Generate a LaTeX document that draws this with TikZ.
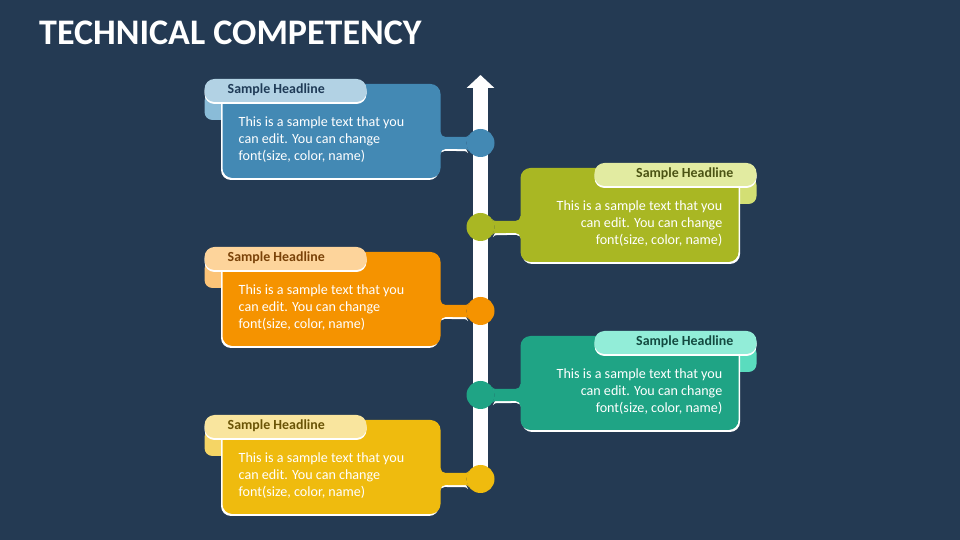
\documentclass[tikz,border=0pt]{standalone}
\usepackage{fontspec}
\setmainfont{Carlito}
\usetikzlibrary{arrows.meta}
\definecolor{bg}{HTML}{243A53}
\definecolor{bodyblue}{HTML}{4389B4}   \definecolor{tabblue}{HTML}{B2D2E4}
\definecolor{foldblue}{HTML}{8ABCD8}   \definecolor{inkblue}{HTML}{1F3B57}
\definecolor{bodygreen}{HTML}{A9B723}  \definecolor{tabgreen}{HTML}{E2EBA1}
\definecolor{foldgreen}{HTML}{D3DF74}  \definecolor{inkgreen}{HTML}{4B5314}
\definecolor{bodyorange}{HTML}{F59300} \definecolor{taborange}{HTML}{FDD49B}
\definecolor{foldorange}{HTML}{FCC478} \definecolor{inkorange}{HTML}{7A4208}
\definecolor{bodyteal}{HTML}{1FA485}   \definecolor{tabteal}{HTML}{92EDD8}
\definecolor{foldteal}{HTML}{5ADCBE}   \definecolor{inkteal}{HTML}{134A40}
\definecolor{bodygold}{HTML}{EFBB0E}   \definecolor{tabgold}{HTML}{F9E59E}
\definecolor{foldgold}{HTML}{F5D565}   \definecolor{inkgold}{HTML}{6A5406}
\tikzset{
  cardbody/.style = {rectangle, rounded corners=10pt, inner sep=0pt,
    minimum width=218pt, minimum height=94pt},% main panel
  cardtab/.style = {rectangle, rounded corners=10pt, inner sep=0pt,
    minimum width=162pt, minimum height=23pt},% headline strip
  cardfold/.style = {rectangle, rounded corners=8pt, inner sep=0pt,
    minimum width=26pt, minimum height=27pt},% curl under the strip
  dot/.style = {circle, inner sep=0pt, minimum size=28pt},
  headline/.style = {inner sep=0pt, font=\fontsize{13.9}{15}\selectfont\bfseries},
  bodytext/.style = {inner sep=0pt, text=white, font=\fontsize{14.1}{17}\selectfont}
}
% neck between panel and dot, dot centre at (0,0)
\newcommand{\neckpath}{(-40,11) arc[start angle=180,end angle=270,radius=5]
  -- (-15.5,6) arc[start angle=-90,end angle=-35.4,radius=5]
  arc[start angle=144.6,end angle=215.4,radius=14]
  arc[start angle=35.4,end angle=90,radius=5]
  -- (-35,-6) arc[start angle=90,end angle=180,radius=5]
  -- (-44,-11) -- (-44,11) -- cycle}

\begin{document}
\begin{tikzpicture}[x=1pt, y=1pt]
  \fill[bg] (0,0) rectangle (960,540);
  \node[anchor=west, inner sep=0pt, text=white,
    font=\fontsize{36}{40}\selectfont\bfseries] (title) at (39,507) {TECHNICAL COMPETENCY};
  % time line
  \coordinate (base) at (480.5,61);
  \coordinate (top) at (480.5,465);
  \draw[white, line width=15pt, -{Triangle[width=27pt, length=13pt]}] (base) -- (top);
  % cards
  \foreach \i/\y/\col/\s/\a/\al in {1/397/blue/1/west/left, 2/313/green/-1/east/right,
      3/229/orange/1/west/left, 4/145/teal/-1/east/right, 5/61/gold/1/west/left}{
    \begin{scope}[shift={(480.5,\y)}, xscale=\s]
      \node[cardfold, fill=fold\col] (fold\i) at (-263,36.5) {};
      \node[cardbody, fill=white] at (-150.5,10) {};
      \fill[white, shift={(-1,-2)}] \neckpath;
      \node[cardbody, fill=body\col] (card\i) at (-149,12) {};
      \fill[body\col] \neckpath;
      \node[cardtab, fill=white] at (-195,50.5) {};
      \node[cardtab, fill=tab\col] (tab\i) at (-195,52.5) {};
      \node[dot, fill=body\col] (dot\i) at (0,0) {};
      \node[headline, text=ink\col, anchor=\a] (head\i) at (-253,53) {Sample Headline};
      \node[bodytext, anchor=\a, align=\al] (text\i) at (-242,3)
        {This is a sample text that you\\can edit. You can change\\font(size, color, name)};
    \end{scope}
  }
\end{tikzpicture}
\end{document}
